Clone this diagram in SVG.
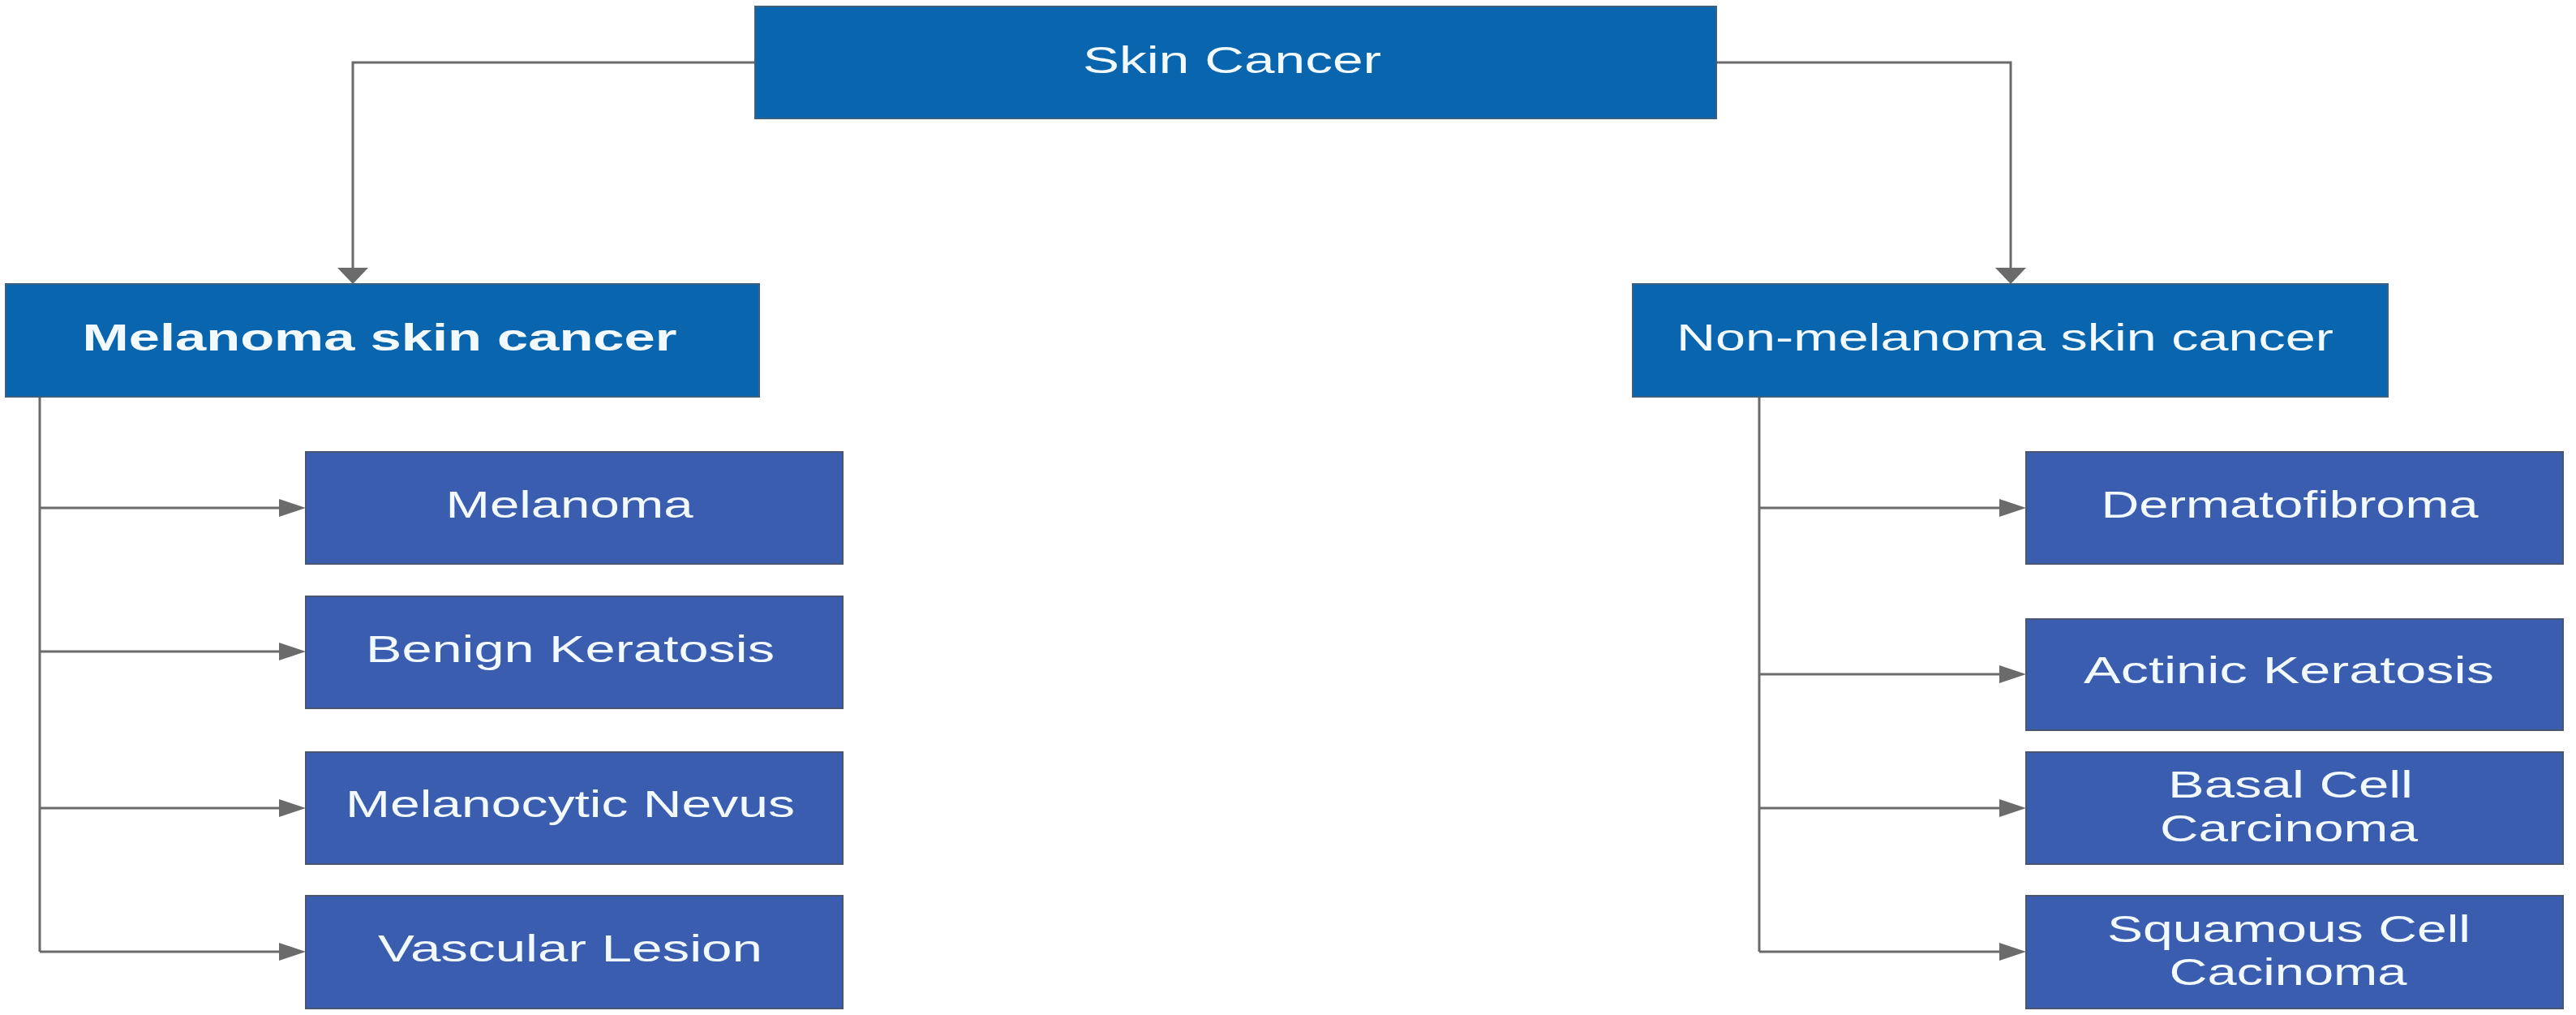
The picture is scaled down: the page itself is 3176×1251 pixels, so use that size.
<svg xmlns="http://www.w3.org/2000/svg" width="3176" height="1251" viewBox="0 0 3176 1251">
<style>
.top rect{fill:#0965ae;stroke:#3c5f80;stroke-width:2}
.leaf rect{fill:#3b5db0;stroke:#4a5670;stroke-width:2}
text{font-family:"Liberation Sans",Arial,sans-serif;font-size:46px;fill:#f2faff;text-anchor:middle}
.b{font-weight:bold}
.conn path{fill:none;stroke:#6b6b6b;stroke-width:3}
.conn polygon{fill:#6b6b6b}
</style>
<rect width="3176" height="1251" fill="#ffffff"/>
<g class="conn" id="connectors">
<path d="M931 77 H435 V332"/>
<polygon points="416,330 454,330 435,350"/>
<path d="M2115 77 H2479 V332"/>
<polygon points="2460,330 2498,330 2479,350"/>
<path d="M49 489 V1173 M49 626 H348 M49 803 H348 M49 996 H348 M49 1173 H348"/>
<polygon points="344,615 377,626 344,637"/>
<polygon points="344,792 377,803 344,814"/>
<polygon points="344,985 377,996 344,1007"/>
<polygon points="344,1162 377,1173 344,1184"/>
<path d="M2169 489 V1173 M2169 626 H2469 M2169 831 H2469 M2169 996 H2469 M2169 1173 H2469"/>
<polygon points="2465,615 2498,626 2465,637"/>
<polygon points="2465,820 2498,831 2465,842"/>
<polygon points="2465,985 2498,996 2465,1007"/>
<polygon points="2465,1162 2498,1173 2465,1184"/>
</g>
<g id="skin-cancer" class="top"><rect x="931" y="8" width="1185" height="138"/><text x="1519" y="90" textLength="368" lengthAdjust="spacingAndGlyphs">Skin Cancer</text></g>
<g id="melanoma-skin-cancer" class="top"><rect x="7" y="350" width="929" height="139"/><text class="b" x="468" y="432" textLength="733" lengthAdjust="spacingAndGlyphs">Melanoma skin cancer</text></g>
<g id="non-melanoma-skin-cancer" class="top"><rect x="2013" y="350" width="931" height="139"/><text x="2472" y="432" textLength="810" lengthAdjust="spacingAndGlyphs">Non-melanoma skin cancer</text></g>
<g id="melanoma" class="leaf"><rect x="377" y="557" width="662" height="138"/><text x="702" y="638" textLength="305" lengthAdjust="spacingAndGlyphs">Melanoma</text></g>
<g id="benign-keratosis" class="leaf"><rect x="377" y="735" width="662" height="138"/><text x="703" y="816" textLength="504" lengthAdjust="spacingAndGlyphs">Benign Keratosis</text></g>
<g id="melanocytic-nevus" class="leaf"><rect x="377" y="927" width="662" height="138"/><text x="703" y="1007" textLength="554" lengthAdjust="spacingAndGlyphs">Melanocytic Nevus</text></g>
<g id="vascular-lesion" class="leaf"><rect x="377" y="1104" width="662" height="139"/><text x="703" y="1185" textLength="474" lengthAdjust="spacingAndGlyphs">Vascular Lesion</text></g>
<g id="dermatofibroma" class="leaf"><rect x="2498" y="557" width="662" height="138"/><text x="2823" y="638" textLength="465" lengthAdjust="spacingAndGlyphs">Dermatofibroma</text></g>
<g id="actinic-keratosis" class="leaf"><rect x="2498" y="763" width="662" height="137"/><text x="2822" y="842" textLength="506" lengthAdjust="spacingAndGlyphs">Actinic Keratosis</text></g>
<g id="basal-cell-carcinoma" class="leaf"><rect x="2498" y="927" width="662" height="138"/><text x="2824" y="983" textLength="302" lengthAdjust="spacingAndGlyphs">Basal Cell</text><text x="2822" y="1037" textLength="318" lengthAdjust="spacingAndGlyphs">Carcinoma</text></g>
<g id="squamous-cell-cacinoma" class="leaf"><rect x="2498" y="1104" width="662" height="139"/><text x="2822" y="1161" textLength="448" lengthAdjust="spacingAndGlyphs">Squamous Cell</text><text x="2821" y="1214" textLength="293" lengthAdjust="spacingAndGlyphs">Cacinoma</text></g>
</svg>
